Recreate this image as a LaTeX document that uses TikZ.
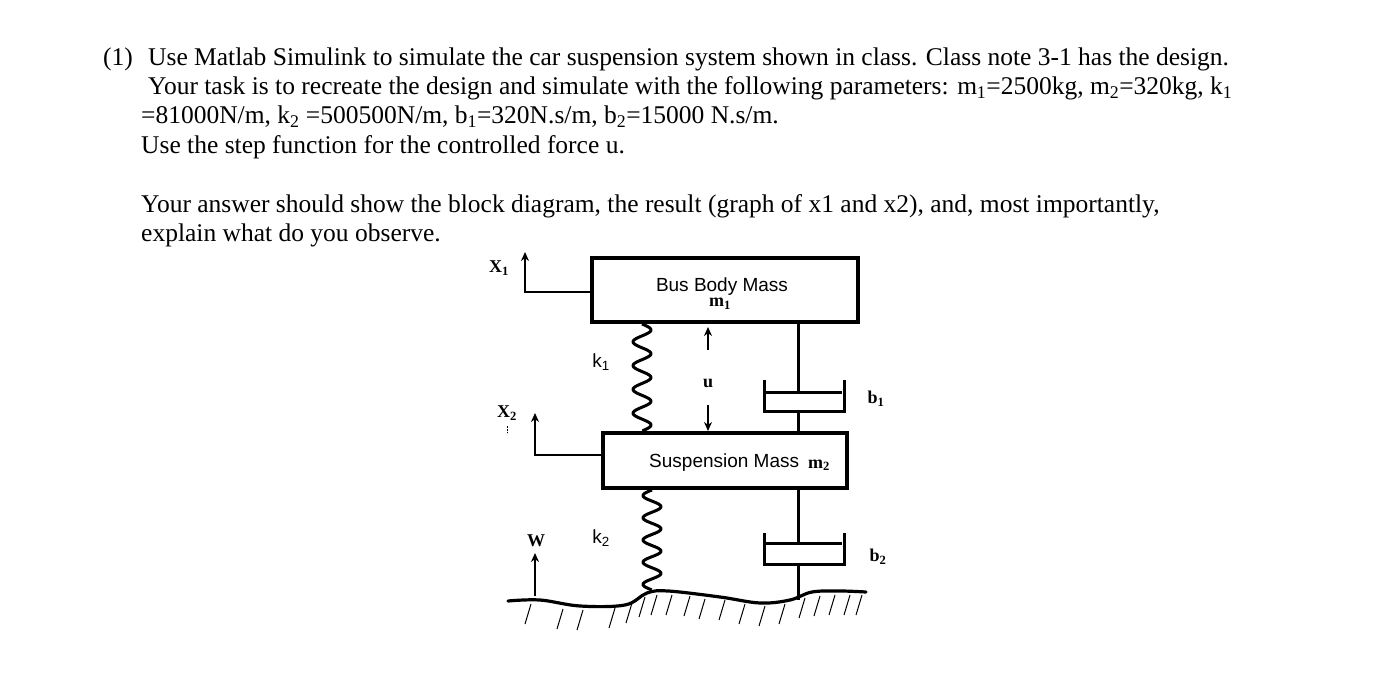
\documentclass[tikz,border=0pt]{standalone}
\usetikzlibrary{arrows.meta}
\usepackage{fontspec}
\setmainfont{Liberation Serif}
\newfontfamily\sans{Liberation Sans}
\begin{document}
\begin{tikzpicture}[x=1pt,y=-1pt,
  txt/.style={anchor=base west,inner sep=0pt,font=\fontsize{25.5}{25.5}\selectfont},
  lab/.style={inner sep=0pt,font=\sans\fontsize{19}{19}\selectfont},
  slab/.style={inner sep=0pt,font=\bfseries\fontsize{18}{18}\selectfont},
  mass/.style={draw,line width=3.2pt},
  thk/.style={line width=3pt},
  ln/.style={line width=1.5pt},
  arr/.style={ln,-{Stealth[length=9pt,width=8pt]}}]
\useasboundingbox (0,0) rectangle (1395,684);
\fill[white] (0,0) rectangle (1395,684);
% text
\node[txt] (t0) at (103,66) {(1)};
\node[txt] (t1) at (148,66) {Use Matlab Simulink to simulate the car suspension system shown in class. Class note 3-1 has the design.};
\node[txt] (t2) at (148,95) {Your task is to recreate the design and simulate with the following parameters: m\textsubscript{1}=2500kg, m\textsubscript{2}=320kg, k\textsubscript{1}};
\node[txt] (t3) at (141,124) {=81000N/m, k\textsubscript{2} =500500N/m, b\textsubscript{1}=320N.s/m, b\textsubscript{2}=15000 N.s/m.};
\node[txt] (t4) at (141,154) {Use the step function for the controlled force u.};
\node[txt] (t5) at (141,213) {Your answer should show the block diagram, the result (graph of x1 and x2), and, most importantly,};
\node[txt] (t6) at (141,242) {explain what do you observe.};
% masses
\draw[mass] (592,258) rectangle (858,322);
\node[lab] (bus) at (722,287) {Bus Body Mass};
\node[slab] (m1) at (720,304) {m\textsubscript{1}};
\draw[mass] (603,433) rectangle (847,488);
\node[lab,anchor=base west] (sus) at (649,467) {Suspension Mass};
\node[slab,anchor=base west] (m2) at (808,468) {m\textsubscript{2}};
% springs
\draw[thk,line join=round] plot[domain=0:1,samples=120] ({642+9*sin(4.5*360*\x)},{324+107*\x});
\draw[thk,line join=round] plot[domain=0:1,samples=120] ({652-9*sin(4.5*360*\x)},{490+100*\x});
\node[lab] (k1) at (601,362) {k\textsubscript{1}};
\node[lab] (k2) at (601,538) {k\textsubscript{2}};
% u
\draw[arr] (708,350) -- (708,327);
\draw[arr] (708,405) -- (708,431);
\node[slab] (u) at (708,383) {u};
% dampers
\draw[thk] (798,322) -- (798,393);
\draw[thk] (766,393) -- (842,393);
\draw[thk] (764,380) -- (764,412) -- (844,412) -- (844,380);
\draw[thk] (798,412) -- (798,433);
\draw[thk] (798,488) -- (798,543);
\draw[thk] (766,543) -- (842,543);
\draw[thk] (764,533) -- (764,564) -- (844,564) -- (844,533);
\draw[thk] (798,564) -- (798,600);
\node[slab] (b1) at (876,399) {b\textsubscript{1}};
\node[slab] (b2) at (878,557) {b\textsubscript{2}};
% X1, X2, W
\draw[arr] (592,292) -- (525,292) -- (525,252);
\node[slab] (x1) at (499,268) {X\textsubscript{1}};
\draw[arr] (603,455) -- (535,455) -- (535,413);
\node[slab] (x2) at (507,413) {X\textsubscript{2}};
\draw[densely dotted] (507,426) -- (507,433);
\draw[arr] (535,596) -- (535,553);
\node[slab] (w) at (536,541) {W};
% ground
\draw[line width=3.2pt,line cap=round] plot[smooth,tension=0.6] coordinates {(508,601) (540,600) (580,606) (625,605) (647,593) (668,591) (720,597) (760,603) (790,600) (812,592) (840,591) (866,592)};
\foreach \x/\y in {531/604,563/609,583/610,615/608,632/603,645/597,657/595,672/595,690/596,705/599,725/600,745/604,765/606,785/604,805/598,820/596,835/595,850/595,862/595}
  \draw[line width=1pt] (\x,\y) -- (\x-6,\y+20);
\end{tikzpicture}
\end{document}
